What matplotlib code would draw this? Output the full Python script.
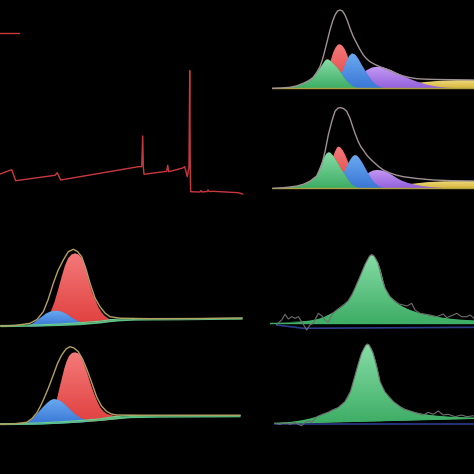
import numpy as np
import matplotlib
matplotlib.use("Agg")
import matplotlib.pyplot as plt
from matplotlib.colors import LinearSegmentedColormap

# --- survey spectrum (position, intensity) ---
survey_x = [0, 11.7, 15.7, 55, 57.3, 60.7, 138.3, 141.7, 142.7, 143.3, 144, 166.7, 167.7, 168.7,
            182.7, 184.7, 187.3, 189, 189.7, 190.3, 190.7, 200, 201, 202, 207, 208, 209, 213.3, 238.3, 242.7]
survey_y = [26, 30.3, 19.3, 24.7, 27.3, 20, 33.3, 33.3, 64, 33.3, 25.7, 28.7, 34.7, 28.3,
            32, 33.3, 23.3, 33.3, 129.3, 23.3, 8.3, 8, 9.5, 8, 8.5, 10, 8.5, 8.7, 7.3, 6]

# --- top-right fits, panel 1 ---
tr1_base = 6.7
tr1_env_x = [0.7, 10, 18, 25, 31.3, 37, 41.3, 45, 48, 50.5, 53, 55.5, 58, 60.5, 63, 65.5, 68, 70.5, 73, 75.5,
             78, 81, 84.7, 88, 91.3, 94.5, 98, 103, 108, 113, 118, 124, 131.3, 138, 144.7, 154, 164.7, 180, 202]
tr1_env_y = [6.7, 7.1, 7.7, 9.2, 11.7, 14.5, 17.7, 23, 28.3, 35.5, 45, 55, 65, 73.5, 80, 84, 85, 84, 80, 74,
             66.7, 59, 51.7, 45.5, 40, 36.3, 33.3, 30.5, 28.3, 26.3, 24.3, 21.6, 19, 17.4, 16.3, 15.8, 15.5, 15.3, 15]
tr1_green_x = [0.7, 10, 18, 25, 31.3, 37, 41.3, 45, 48, 51, 53, 54.7, 56.5, 58.5, 61, 64.7, 68, 71.3, 75, 79.7, 84, 88]
tr1_green_y = [6.7, 7.1, 7.7, 9.2, 11.7, 14.5, 17.7, 22.5, 27, 31.5, 34.5, 35.7, 35.5, 34, 31.5, 28, 23.5, 18.3, 13.5, 9.5, 7.5, 6.8]
tr1_red_x = [50, 53, 56, 58.5, 61, 63.5, 66, 68, 70, 72.5, 75, 78, 81, 84, 87, 90]
tr1_red_y = [10, 17, 26, 34, 42, 47.5, 50.5, 50.7, 49.5, 46, 40, 30, 20, 12.5, 8.5, 6.8]
tr1_blue_x = [60, 64, 68, 71, 74, 77, 80, 83, 86, 89, 92, 95, 98.5, 102, 106, 110, 115]
tr1_blue_y = [7.5, 11, 18, 25, 33, 39, 41.7, 40.5, 36.5, 31, 26, 21, 16, 12, 9, 7.5, 6.8]
tr1_purple_x = [45, 55, 65, 72, 78, 84, 90, 95, 100, 105, 110, 115, 120, 125, 131, 138, 145, 155, 165, 175, 190]
tr1_purple_y = [6.7, 8, 10, 12, 14, 17, 21.5, 25, 27.5, 28.3, 28, 26.5, 24.5, 22, 19, 16, 13.3, 10.3, 8.3, 7.3, 6.8]
tr1_yellow_x = [70, 90, 110, 125, 140, 155, 170, 185, 202]
tr1_yellow_y = [6.7, 7.2, 8.3, 9.7, 11.5, 13.2, 14.3, 14.8, 15]

# --- top-right fits, panel 2 ---
tr2_base = 6.7
tr2_env_x = [1.3, 10, 18, 25, 31.3, 38, 44.7, 48, 50.5, 53, 56.3, 59.7, 63, 66, 68.7, 71.5, 74.7, 78, 80.5, 83,
             86.3, 89, 91.3, 94.7, 98, 101.3, 106, 111.3, 118, 124, 131.3, 145, 161.3, 180, 202]
tr2_env_y = [6.7, 7.2, 8, 9, 10.7, 13.8, 19, 26.5, 33, 43.3, 60, 73.3, 83.7, 87, 87.3, 86.5, 83.7, 76.7, 69, 61.7,
             53.3, 48, 45, 40, 36.3, 33.3, 29, 25, 22, 20, 18.3, 16.5, 15, 14.3, 14]
tr2_green_x = [1.3, 10, 18, 25, 31.3, 38, 44.7, 47.5, 50, 52.5, 54.5, 56.3, 58, 60, 62.5, 65, 67, 69, 71, 73, 76, 79.7, 84, 88]
tr2_green_y = [6.7, 7.2, 8, 9, 10.7, 13.8, 19, 26, 33, 38.5, 41.5, 42.7, 42.5, 40.5, 37, 33, 29.5, 26, 23, 20, 15, 10.5, 8, 6.8]
tr2_red_x = [52, 55, 58, 60.5, 63, 65, 66.3, 68, 70, 72.5, 75, 78, 81, 84, 88, 92]
tr2_red_y = [10, 18, 29, 37, 43.5, 47.5, 48.3, 47.8, 45.5, 41, 35, 27, 19, 13, 8.5, 6.8]
tr2_blue_x = [62, 66, 70, 73, 76, 79, 81, 83, 85, 87, 90, 93, 96, 99, 102, 106, 110, 115]
tr2_blue_y = [7.5, 11, 18, 25, 31.5, 36.5, 39, 40, 39.3, 37, 32.5, 27, 21.5, 16.5, 12.5, 9.2, 7.5, 6.8]
tr2_purple_x = [60, 70, 78, 84, 89, 93, 97, 101, 104.7, 108, 112, 116, 120, 125, 130, 135, 142, 150, 160, 172, 185]
tr2_purple_y = [6.7, 8, 10, 12.5, 16, 19.5, 22.5, 24.5, 25, 24.8, 24, 22.3, 20, 16.7, 14.2, 12.3, 10.5, 9, 7.8, 7, 6.7]
tr2_yellow_x = [70, 90, 110, 125, 140, 155, 170, 185, 202]
tr2_yellow_y = [6.7, 7.2, 8.3, 9.6, 11.2, 12.8, 13.6, 13.9, 14]

# --- bottom-left fits, panel 1 ---
bl1_env_x = [0, 15, 30, 37, 43.3, 48, 53.3, 58, 63.3, 68.3, 73.3, 77.5, 81.7, 86, 90, 95, 100, 105, 110, 120, 150, 200, 242]
bl1_env_y = [9, 9.5, 11.7, 15.5, 23.3, 35, 51.7, 64.5, 75, 83.3, 85.7, 83.5, 78.3, 66, 51.7, 37, 28.3, 22, 18.3, 16.8, 16.3, 16.5, 17]
bl1_green_x = [0, 20, 40, 60, 80, 100, 110, 120, 133, 150, 180, 210, 242]
bl1_green_lo = [8.3, 8.6, 9, 9.5, 10.3, 12, 13.3, 14.2, 14.8, 15, 15.2, 15.5, 15.8]
bl1_green_y = [9.5, 9.8, 10.2, 11, 12.3, 13.8, 15.3, 16, 16.5, 16, 16.2, 16.5, 16.8]
bl1_blue_x = [26, 30, 34, 38, 42, 46, 50, 53.5, 57, 60.5, 64, 68, 72, 76, 80, 84]
bl1_blue_lo = [8.8, 8.9, 9, 9.1, 9.3, 9.4, 9.6, 9.8, 9.9, 10.1, 10.4, 10.7, 11, 11.2, 11.6, 11.9]
bl1_blue_y = [8.9, 10, 12.5, 15.5, 18.5, 21.5, 23.3, 24.2, 24.3, 23.7, 22.3, 20, 17.2, 14.8, 13, 12]
bl1_red_x = [45, 48, 51, 54.5, 58.3, 62, 65, 68, 71.5, 75, 78.5, 81.5, 84, 86.7, 89, 92, 95, 98, 101, 104, 108, 112, 118]
bl1_red_lo = [9.6, 9.7, 9.9, 10.1, 10.3, 10.6, 10.8, 11, 11.3, 11.5, 11.8, 12.1, 12.3, 12.6, 12.8, 13, 13.3, 13.5, 13.8, 14,
              14.2, 14.4, 14.7]
bl1_red_y = [12, 17, 24, 33, 46, 59.5, 69.5, 76.5, 80.5, 81.7, 80.5, 77, 71, 62, 52, 42, 35, 28, 23, 19.5, 16.5, 15, 15]

# --- bottom-left fits, panel 2 ---
bl2_env_x = [0, 15, 26.7, 32, 36.7, 40, 43.3, 48, 53.3, 57.5, 61.7, 66, 70, 74, 78.3, 82.5, 86.7, 91.5, 96.7, 101.5,
             106.7, 111.5, 116.7, 140, 180, 240]
bl2_env_y = [5.7, 6.2, 7.7, 11.5, 17, 23, 30, 41, 55, 66.5, 75, 81, 83.3, 82, 78.3, 71, 61, 48, 33, 24,
             18.5, 16, 15, 14.8, 14.8, 14.8]
bl2_green_x = [0, 20, 40, 60, 80, 100, 115, 130, 160, 200, 240]
bl2_green_lo = [5.3, 5.5, 5.9, 6.8, 8, 9.5, 11, 12.3, 12.8, 13, 13.2]
bl2_green_y = [6.3, 6.6, 7.1, 8.2, 9.5, 11.2, 13.5, 14.5, 14.3, 14.4, 14.4]
bl2_blue_x = [23, 27, 31, 35, 39, 43, 47, 50.5, 53.5, 57, 60.5, 64, 68, 72, 76, 80, 84, 88]
bl2_blue_lo = [5.6, 5.7, 5.8, 5.9, 6, 6.1, 6.3, 6.4, 6.5, 6.6, 6.8, 7, 7.2, 7.5, 7.7, 8, 8.3, 8.6]
bl2_blue_y = [5.7, 7.2, 10, 14, 18.5, 23, 27, 29.8, 31, 30.5, 29, 26.3, 22.5, 18.5, 15, 12.3, 10.5, 9.4]
bl2_red_x = [50, 52, 54.5, 56.7, 59, 61.7, 64.3, 66.7, 69, 72, 75, 78, 80.5, 83.3, 86.7, 90, 93.3, 96.7, 100, 103.3,
             107, 113.3, 120]
bl2_red_lo = [6.5, 6.6, 6.8, 6.9, 7.1, 7.3, 7.5, 7.6, 7.8, 7.9, 8, 8.2, 8.3, 8.5, 8.7, 8.9, 9.1, 9.4, 9.6, 10,
              10.4, 11, 11.6]
bl2_red_y = [9, 13.5, 21.5, 30, 40, 51, 61.5, 69, 74, 77, 77.7, 76.8, 74.5, 67, 57.5, 47, 37.5, 29, 22.5, 18.5,
             16, 14.4, 14.2]

# --- bottom-right fits, panel 1 ---
br1_green_base = 12.5
br1_green_x = [0, 15, 30, 40, 48, 55, 61, 66, 70, 74, 77, 80, 82.5, 85, 87.5, 90, 92.5, 95, 97.5, 99.5,
               101.7, 103.5, 105.5, 108, 110.5, 112.5, 115, 117.5, 120, 124, 128, 133, 140, 148, 157, 166, 175, 185, 193, 204]
br1_green_y = [12.5, 12.8, 13.5, 14.5, 16, 18.5, 21.5, 24.5, 27, 30, 33, 36.5, 41, 46.7, 52.5, 58.5, 64.5, 70.5, 75.5, 78.5,
               80, 79.5, 77, 72, 64.5, 56.5, 46.7, 41.5, 38, 34, 31, 28.2, 25, 22.3, 20, 18.3, 17, 15.8, 15.2, 14.6]
br1_raw_x = [6.7, 11.7, 15, 18.3, 21.7, 25, 28.3, 31.7, 36.7, 40, 43.3, 48.3, 51.7, 55, 58.3, 62, 66, 70, 74, 78,
             82, 85, 90, 95, 99.5, 101.7, 104, 108, 112, 115, 120, 125, 129, 133.3, 137, 141.7, 145, 150, 160, 166.7,
             173.3, 176.7, 183.3, 186.7, 191.7, 196.7, 200, 204]
br1_raw_y = [10.7, 15, 20.7, 16, 18.3, 16.7, 18.3, 13.3, 5, 10, 11.7, 21.7, 19.3, 15, 12.7, 20.5, 24.5, 27.5, 30.5, 34,
             40.5, 47, 58.5, 70.5, 79, 80.5, 79, 72, 56, 47, 38.5, 34, 31, 30, 29, 31.7, 25, 21.7, 20, 18.3,
             21, 17.3, 20, 21.7, 18.3, 18.3, 20, 16.7]
br1_navy_x = [6.7, 33.3, 204]
br1_navy_y = [10, 6.7, 7.7]

# --- bottom-right fits, panel 2 ---
br2_green_x = [5, 20, 32, 40, 47, 53, 58, 63, 68, 72, 75, 78, 80.5, 83.3, 85.5, 87.5, 89.5, 91.5, 93.5, 95.5,
               97.3, 99, 101, 103, 105, 107, 108.7, 110, 112.5, 115, 119, 123.3, 128, 133, 138, 143.3, 151, 160, 170, 180,
               192, 204]
br2_green_lo = [6.7, 7.1, 7.4, 7.6, 7.7, 7.9, 8.0, 8.2, 8.3, 8.4, 8.5, 8.5, 8.6, 8.7, 8.7, 8.8, 8.8, 8.9, 8.9, 9.0,
                9.0, 9.1, 9.1, 9.2, 9.2, 9.3, 9.3, 9.3, 9.4, 9.5, 9.6, 9.7, 9.8, 9.9, 10.0, 10.2, 10.4, 10.6, 10.8, 11.1,
                11.4, 11.7]
br2_green_y = [6.7, 8, 9.8, 11.5, 13.5, 15.7, 17.8, 20, 22.5, 25.5, 28.3, 33, 38.5, 48.3, 56, 63.5, 70.5, 76.5, 81, 84.3,
               85.7, 85, 82, 77, 70.5, 62, 54.5, 48.3, 42, 37.8, 32.5, 28.3, 25, 22, 20, 18.3, 16.5, 15, 14, 13.3,
               12.8, 12.3]
br2_raw_x = [5, 10, 15, 20, 25, 28.3, 31.7, 35, 38.3, 41.7, 47, 53, 58, 63, 68, 75, 80.5, 83.3, 87.5, 91.5,
             95.5, 97.3, 99, 103, 107, 110, 115, 123.3, 133.3, 140, 146.7, 153.3, 158.3, 163.3, 168.3, 173.3, 178.3, 185,
             191.7, 196.7, 204]
br2_raw_y = [6.7, 5.7, 7.7, 5.7, 7.7, 5.7, 4.3, 7.7, 9, 7.7, 13.3, 15.9, 17.6, 20.3, 22.3, 28.5, 38.7, 48.5, 63.5, 76.7,
             84.5, 86, 85.2, 77.2, 62.3, 48.5, 38, 28.5, 21, 19, 16.7, 15, 17.7, 15.7, 19, 15, 15.7, 13.3,
             15, 13.3, 14.3]
br2_navy_x = [5, 204]
br2_navy_y = [5.7, 5.7]

W = 474
fig = plt.figure(figsize=(4.74, 4.74), dpi=100, facecolor="black")


def panel(x0, y0, x1, y1):
    # panel box given in pixels from the top-left corner
    ax = fig.add_axes([x0 / W, 1 - y1 / W, (x1 - x0) / W, (y1 - y0) / W])
    ax.set_facecolor("none")
    ax.axis("off")
    return ax


def grad_fill(ax, x, lo, hi, c_top, c_bot, z):
    x = np.asarray(x, dtype=float)
    lo = np.broadcast_to(np.asarray(lo, dtype=float), x.shape)
    hi = np.asarray(hi, dtype=float)
    poly = ax.fill_between(x, lo, hi, color=c_bot, lw=0, zorder=z)
    cmap = LinearSegmentedColormap.from_list("g", [c_bot, c_top])
    img = ax.imshow(np.linspace(0, 1, 64).reshape(-1, 1), cmap=cmap, aspect="auto", origin="lower",
                    extent=[x[0], x[-1], lo.min(), hi.max()], zorder=z)
    img.set_clip_path(poly.get_paths()[0], transform=ax.transData)


GREEN = ("#86dca6", "#3fae66")
RED = ("#f47a7a", "#e0403f")
BLUE = ("#6aaaf0", "#3a78d6")
PURPLE = ("#c49af4", "#9462dc")
YELLOW = ("#f0dc80", "#d8b840")

# survey
ax = panel(0, 20, 245, 200)
ax.plot(survey_x, survey_y, color="#c8383c", lw=1.0, label="Survey")
ax.set_xlim(0, 245)
ax.set_ylim(0, 180)
ax.legend(loc="upper left", bbox_to_anchor=(0, 1 - 9 / 180), borderaxespad=0, borderpad=0,
          handlelength=1.7, frameon=False, fontsize=8, labelcolor="black")

# top-right panels
for (y0, y1, base, env_x, env_y, comps) in [
    (0, 95, tr1_base, tr1_env_x, tr1_env_y,
     [(tr1_yellow_x, tr1_yellow_y, YELLOW), (tr1_purple_x, tr1_purple_y, PURPLE),
      (tr1_red_x, tr1_red_y, RED), (tr1_blue_x, tr1_blue_y, BLUE), (tr1_green_x, tr1_green_y, GREEN)]),
    (95, 195, tr2_base, tr2_env_x, tr2_env_y,
     [(tr2_yellow_x, tr2_yellow_y, YELLOW), (tr2_purple_x, tr2_purple_y, PURPLE),
      (tr2_red_x, tr2_red_y, RED), (tr2_blue_x, tr2_blue_y, BLUE), (tr2_green_x, tr2_green_y, GREEN)]),
]:
    ax = panel(272, y0, 474, y1)
    for i, (cx, cy, col) in enumerate(comps):
        grad_fill(ax, cx, base, cy, col[0], col[1], 2 + i)
    ax.plot([0, 202], [base, base], color="#b0a040", lw=1.0, zorder=8)
    ax.plot(env_x, env_y, color="#a09292", lw=1.0, zorder=9)
    ax.set_xlim(0, 202)
    ax.set_ylim(0, y1 - y0)

# bottom-left panels
for (y0, y1, env_x, env_y, gx, glo, gy, bx, blo, by, rx, rlo, ry) in [
    (240, 335, bl1_env_x, bl1_env_y, bl1_green_x, bl1_green_lo, bl1_green_y,
     bl1_blue_x, bl1_blue_lo, bl1_blue_y, bl1_red_x, bl1_red_lo, bl1_red_y),
    (335, 430, bl2_env_x, bl2_env_y, bl2_green_x, bl2_green_lo, bl2_green_y,
     bl2_blue_x, bl2_blue_lo, bl2_blue_y, bl2_red_x, bl2_red_lo, bl2_red_y),
]:
    ax = panel(0, y0, 245, y1)
    grad_fill(ax, rx, rlo, ry, RED[0], RED[1], 2)
    grad_fill(ax, bx, blo, by, BLUE[0], BLUE[1], 3)
    ax.fill_between(gx, glo, gy, color="#5cc080", lw=0, zorder=4)
    ax.plot(gx, gy, color="#6cd090", lw=0.8, zorder=5)
    ax.plot(env_x, env_y, color="#b4a060", lw=1.0, zorder=9)
    ax.set_xlim(0, 245)
    ax.set_ylim(0, y1 - y0)

# bottom-right panels
for (y0, y1, gx, glo, gy, rx, ry, nx, ny) in [
    (245, 335, br1_green_x, [br1_green_base] * len(br1_green_x), br1_green_y, br1_raw_x, br1_raw_y, br1_navy_x, br1_navy_y),
    (335, 430, br2_green_x, br2_green_lo, br2_green_y, br2_raw_x, br2_raw_y, br2_navy_x, br2_navy_y),
]:
    ax = panel(270, y0, 474, y1)
    ax.plot(nx, ny, color="#2c3c88", lw=1.2, zorder=2)
    grad_fill(ax, gx, glo, gy, GREEN[0], GREEN[1], 3)
    ax.plot(gx, glo, color="#3fae66", lw=1.0, zorder=4)
    ax.plot(rx, ry, color="#6e6e6e", lw=0.8, zorder=5)
    ax.set_xlim(0, 204)
    ax.set_ylim(0, y1 - y0)

fig.savefig("out.png", dpi=100, facecolor="black")
